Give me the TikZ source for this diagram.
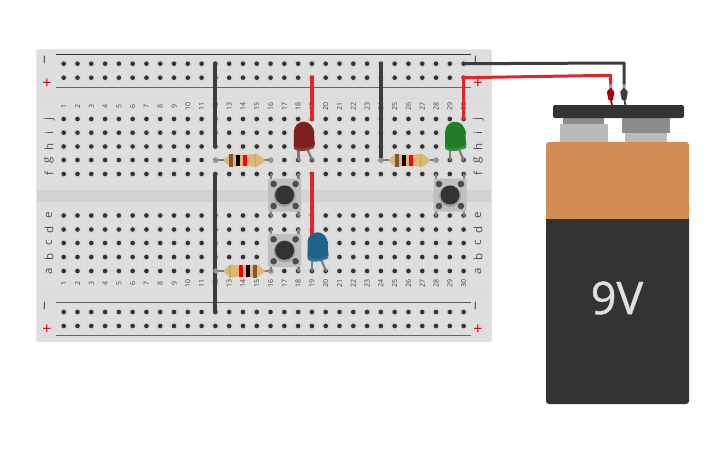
\documentclass[tikz,border=0pt]{standalone}
\usepackage{fontspec}
\setmainfont{Open Sans}
\newfontfamily\voltfont[FakeBold=0.8]{Open Sans}
\definecolor{boardc}{HTML}{DEDEDE}
\definecolor{gutterc}{HTML}{D3D3D3}
\definecolor{darkc}{HTML}{3A3D40}
\definecolor{redw}{HTML}{E3242B}
\definecolor{railr}{HTML}{C04040}
\definecolor{bodyr}{HTML}{DDB779}
\definecolor{orangec}{HTML}{D08C52}
\definecolor{batc}{HTML}{333333}
\definecolor{leadc}{HTML}{959595}
\definecolor{ledr}{HTML}{7E2020}
\definecolor{ledb}{HTML}{1C6387}
\definecolor{ledg}{HTML}{1F7F28}
\tikzset{
    wirek/.style={line width=4pt,darkc,line cap=round,line join=round},
    wirer/.style={line width=4pt,redw,line cap=round,line join=round},
    lead/.style={line width=2.2pt,leadc!85!black,line cap=round},
    lab/.style={rotate=90,font=\fontsize{7}{7}\selectfont,text=black!75,inner sep=0pt},
    letter/.style={rotate=90,font=\fontsize{11.5}{11.5}\selectfont,text=black!70,inner sep=0pt},
    sign/.style={font=\fontsize{16}{16}\selectfont,inner sep=0pt},
}
\newcommand{\colx}[1]{(63.7+13.79*(#1-1))}
% one breadboard hole
\newcommand{\holepart}[2]{
    \fill[black!16] ({\colx{#1}},#2) circle (3.9);
    \fill[black!80] ({\colx{#1}},#2) circle (2.3);
}
% x left, x right, y, then the four band positions
\newcommand{\respart}[7]{
    \draw[lead] (#1,#3) -- (#2,#3);
    \fill[leadc] (#1,#3) circle (2.6) (#2,#3) circle (2.6);
    \fill[bodyr,rounded corners=1.5pt] (#1+7,#3) -- (#1+15,#3-7) -- (#1+20,#3-5.7) -- (#1+35,#3-5.7) -- (#1+41,#3-7) -- (#1+50,#3)
        -- (#1+41,#3+7) -- (#1+35,#3+5.7) -- (#1+20,#3+5.7) -- (#1+15,#3+7) -- cycle;
    \fill[brown!70!black] (#4-2.2,#3-6.5) rectangle (#4+2.2,#3+6.5);
    \fill[black] (#5-1.9,#3-5.7) rectangle (#5+1.9,#3+5.7);
    \fill[red] (#6-1.9,#3-5.7) rectangle (#6+1.9,#3+5.7);
    \fill[yellow!65!black!90] (#7-0.6,#3-6.5) rectangle (#7+0.6,#3+6.5);
}
% x of dome, y of top, colour, x of the two legs
\newcommand{\ledpart}[5]{
    \draw[lead] (#4,#2+38.5) -- (#4,#2+27);
    \draw[lead] (#5,#2+38.5) -- (#5-5,#2+27);
    \begin{scope}[shift={(#1,#2)}]
        \fill[#3!88!white] (-9.8,20) -- (11,20) -- (11.3,23) .. controls (10,30) and (-7,31) .. (-9.8,27) -- cycle;
        \fill[#3] (-9.8,24.5) -- (-9.8,10) .. controls (-9.8,4) and (-5,0) .. (0,0)
            .. controls (5,0) and (10.4,4) .. (10.4,12) -- (11,22.5) .. controls (6,27) and (-5,28) .. (-9.8,24.5) -- cycle;
    \end{scope}
}
% centre x, centre y, x of the left and right legs
\newcommand{\btnpart}[4]{
    \foreach \lx in {#3,#4}{
        \draw[lead] (\lx,#2-21) -- (\lx,#2-12);
        \draw[lead] (\lx,#2+21) -- (\lx,#2+12);
    }
    \fill[black!25,rounded corners=1pt] (#1-16.5,#2-16.5) rectangle (#1+16.5,#2+16.5);
    \fill[black!38] (#1,#2+1) circle (11);
    \fill[black!80] (#1,#2) circle (9.5);
    \foreach \sx in {-11,11}
        \foreach \sy in {-11,11}
            \fill[black!70] (#1+\sx,#2+\sy) circle (3.3);
}
\begin{document}
\begin{tikzpicture}[x=1pt,y=-1pt]
    \useasboundingbox (0,0) rectangle (725,453);
    % board
    \draw[black!18,fill=boardc,rounded corners=2pt] (36.5,49.5) rectangle (491.5,341.5);
    \fill[gutterc] (37,190) rectangle (491,202);
    \draw[black!15] (37,98) -- (491,98) (37,292) -- (491,292);
    \draw[black!80,line width=1pt] (56,54.7) -- (471,54.7);
    \draw[railr,line width=1pt] (56,87.7) -- (471,87.7);
    \draw[black!65,line width=1pt] (56,302.7) -- (471,302.7);
    \draw[railr,line width=1pt] (56,335.7) -- (471,335.7);
    \foreach \s/\y in {a/60,b/306}{
        \node[sign,text=black!70] (minus l\s) at (47,\y) {\rotatebox{90}{−}};
        \node[sign,text=black!70] (minus r\s) at (478,\y) {\rotatebox{90}{−}};
    }
    \foreach \s/\y in {a/84,b/330}{
        \node[sign,text=red!85!black] (plus l\s) at (47,\y) {+};
        \node[sign,text=red!85!black] (plus r\s) at (478,\y) {+};
    }
    \foreach \i in {1,...,30}{
        \foreach \y in {63.7,77.7,119,132.7,146.5,160,174,215.5,229.5,243,257,271,312,326}{
            \holepart{\i}{\y}
        }
        \node[lab] (top\i) at ({\colx{\i}},106) {\i};
        \node[lab] (bot\i) at ({\colx{\i}},283) {\i};
    }
    \foreach \t/\y in {j/119,i/132.7,h/146.5,g/160,f/174,e/215.5,d/229.5,c/243,b/257,a/271}{
        \node[letter] (left\t) at (49,\y) {\t};
        \node[letter] (right\t) at (478,\y) {\t};
    }
    % jumpers
    \coordinate (k12a) at ({\colx{12}},63.7);
    \coordinate (k12b) at ({\colx{12}},146.5);
    \coordinate (k12c) at ({\colx{12}},174);
    \coordinate (k12d) at ({\colx{12}},312);
    \coordinate (k24a) at ({\colx{24}},63.7);
    \coordinate (k24b) at ({\colx{24}},160);
    \coordinate (r19a) at ({\colx{19}},77.7);
    \coordinate (r19b) at ({\colx{19}},119);
    \coordinate (r19c) at ({\colx{19}},174);
    \coordinate (r19d) at ({\colx{19}},243);
    \coordinate (r30a) at ({\colx{30}},119);
    \coordinate (r30b) at ({\colx{30}},77.7);
    \coordinate (k30) at ({\colx{30}},63.7);
    \coordinate (clipr) at (610.7,85);
    \coordinate (clipk) at (624,85);
    \draw[wirek] (k12a) -- (k12b);
    \draw[wirek] (k12c) -- (k12d);
    \draw[wirek] (k24a) -- (k24b);
    \draw[wirer] (r19a) -- (r19b);
    \draw[wirer] (r19c) -- (r19d);
    % parts
    \respart{215.7}{270.9}{160.3}{231}{238.3}{245.3}{255.3}
    \respart{215.7}{270.9}{271}{254.7}{247.7}{240.7}{230}
    \respart{381}{436}{160.3}{396.7}{404}{411}{420.7}
    \btnpart{284.6}{195}{270.9}{298.5}
    \btnpart{284.6}{250.3}{270.9}{298.5}
    \btnpart{450}{195}{436}{463.7}
    \ledpart{303.7}{121.7}{ledr}{298.4}{312.2}
    \ledpart{317.3}{232.3}{ledb}{312.2}{326}
    \ledpart{455}{121.7}{ledg}{449.9}{463.7}
    % battery
    \fill[black!45] (563,118) rectangle (604,125);
    \fill[black!27] (560,124) rectangle (608,143);
    \fill[black!45] (621.5,118) rectangle (670,133);
    \fill[black!27] (625,133) rectangle (666.5,143);
    \fill[batc,rounded corners=2pt] (553,105) rectangle (684,118);
    \fill[batc,rounded corners=3pt] (546,200) rectangle (689,404);
    \fill[orangec,rounded corners=3pt] (546,142) rectangle (689,200);
    \fill[orangec] (546,195) rectangle (689,219);
    \node[text=black!12,font=\voltfont\fontsize{45}{45}\selectfont,inner sep=0pt] (volt) at (617,298) {9V};
    % leads to the clips
    \draw[wirek,line width=3pt] (k30) -- (624,63) -- (clipk);
    \draw[wirer,line width=3pt] (r30a) -- (r30b) -- (610.7,75.3) -- (clipr);
    \draw[line width=1.8pt,red!60!black] (610.7,98) -- (612,105.5);
    \draw[line width=1.8pt,darkc] (624,98) -- (625.5,105.5);
    \fill[red!65!black] (610.7,87) -- (614.3,92) -- (613,100) -- (608.5,100) -- (606.9,92) -- cycle;
    \fill[darkc] (624,87) -- (627.8,92) -- (626.3,100) -- (621.8,100) -- (620.2,92) -- cycle;
    \fill[leadc] (609.3,84) rectangle (612.1,88) (622.6,84) rectangle (625.4,88);
\end{tikzpicture}
\end{document}
